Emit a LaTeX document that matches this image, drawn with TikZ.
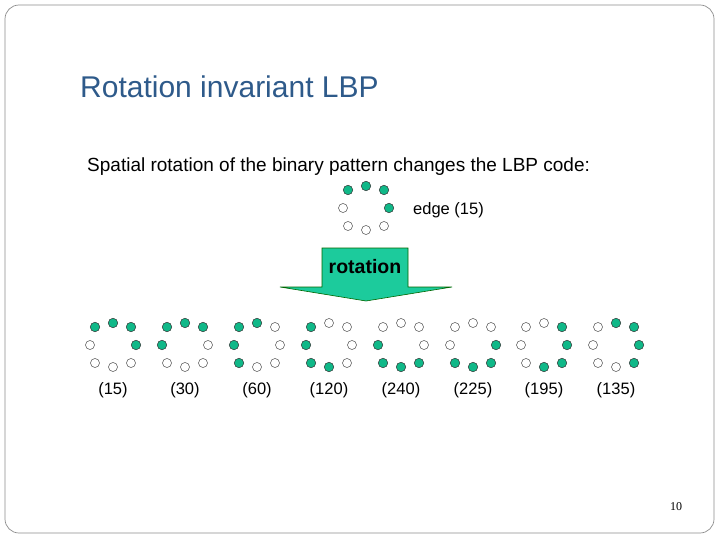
\documentclass[tikz,border=0pt]{standalone}
\usepackage{fontspec}
\setmainfont{Liberation Sans}
\newfontfamily\numfont{Liberation Serif}
\definecolor{dotg}{HTML}{10B888}
\definecolor{arrg}{HTML}{1CCB9C}
\definecolor{titleblue}{HTML}{2E5A8A}
\tikzset{
 on/.style={circle,draw=black!80,fill=dotg,line width=0.5pt,minimum size=9.5pt,inner sep=0pt},
 off/.style={circle,draw=black!70,fill=white,line width=0.5pt,minimum size=9pt,inner sep=0pt},
 lbl/.style={font=\fontsize{16.5}{18}\selectfont,inner sep=0pt}
}
% offsets: top, tr, right, br, bottom, bl, left, tl
\newcommand{\lbppat}[4]{%
 \foreach \s/\dx/\dy [count=\i from 0] in {#4} {
   \ifnum\s=1
     \node[on] (#1-\i) at ({#2+\dx},{#3+\dy}) {};
   \else
     \node[off] (#1-\i) at ({#2+\dx},{#3+\dy}) {};
   \fi
 }}
\newcommand{\pat}[9]{\lbppat{#1}{#2}{#3}{#4/0/-22,#5/18/-18,#6/23/0,#7/18/18,#8/0/22,#9/-18/18,\pA/-23/0,\pB/-18/-18}}
\newcommand{\patt}[9]{\def\pA{#8}\def\pB{#9}\pat}
\begin{document}
\begin{tikzpicture}[x=1pt,y=-1pt]
\useasboundingbox (0,0) rectangle (720,540);
\draw[black!45,rounded corners=14pt,line width=0.7pt] (5,5) rectangle (714,533);
\node[anchor=base west,text=titleblue,font=\fontsize{30}{33}\selectfont,inner sep=0pt] (title) at (80,98) {Rotation invariant LBP};
\node[anchor=base west,font=\fontsize{19}{22}\selectfont,inner sep=0pt] (sub) at (87,172) {Spatial rotation of the binary pattern changes the LBP code:};
\def\pA{0}\def\pB{1}\pat{t}{366}{208}{1}{1}{1}{0}{0}{0}
\node[anchor=west,font=\fontsize{16.5}{18}\selectfont,inner sep=0pt] (edge) at (413,210) {edge (15)};
\draw[draw=black!60!green,fill=arrg,line width=0.6pt] (322,248) -- (408,248) -- (408,287) -- (452,287) -- (366,301) -- (280,287) -- (322,287) -- cycle;
\node[font=\bfseries\fontsize{19.5}{22}\selectfont,inner sep=0pt] (rot) at (365,267) {rotation};
\def\pA{0}\def\pB{1}\pat{a}{113}{345}{1}{1}{1}{0}{0}{0}
\def\pA{1}\def\pB{1}\pat{b}{185}{345}{1}{1}{0}{0}{0}{0}
\def\pA{1}\def\pB{1}\pat{c}{257}{345}{1}{0}{0}{0}{0}{1}
\def\pA{1}\def\pB{1}\pat{d}{329}{345}{0}{0}{0}{0}{1}{1}
\def\pA{1}\def\pB{0}\pat{e}{401}{345}{0}{0}{0}{1}{1}{1}
\def\pA{0}\def\pB{0}\pat{f}{473}{345}{0}{0}{1}{1}{1}{1}
\def\pA{0}\def\pB{0}\pat{g}{544}{345}{0}{1}{1}{1}{1}{0}
\def\pA{0}\def\pB{0}\pat{h}{616}{345}{1}{1}{1}{1}{0}{0}
\node[lbl] (la) at (113,390) {(15)};
\node[lbl] (lb) at (185,390) {(30)};
\node[lbl] (lc) at (257,390) {(60)};
\node[lbl] (ld) at (329,390) {(120)};
\node[lbl] (le) at (401,390) {(240)};
\node[lbl] (lf) at (473,390) {(225)};
\node[lbl] (lg) at (544,390) {(195)};
\node[lbl] (lh) at (616,390) {(135)};
\node[font=\numfont\fontsize{12}{14}\selectfont,inner sep=0pt] (pg) at (676,507) {10};
\end{tikzpicture}
\end{document}
